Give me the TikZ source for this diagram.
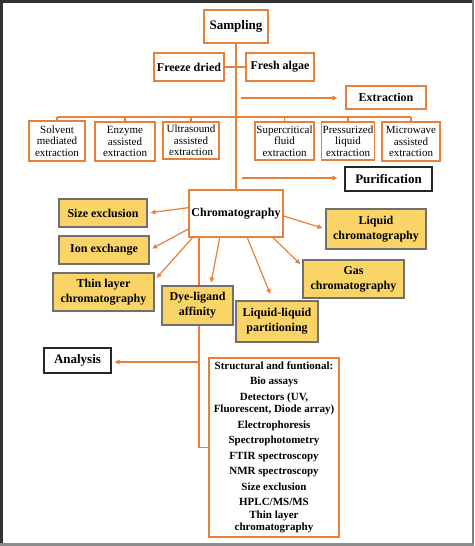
\documentclass[tikz,border=0pt]{standalone}
\usepackage{fontspec}
\setmainfont{Liberation Serif}
\usepackage{xcolor}
\usetikzlibrary{
    arrows.meta,
    positioning,
    backgrounds,
    calc
}
\definecolor{linkorange}{HTML}{E8803A}
\definecolor{boxyellow}{HTML}{FAD466}
\definecolor{boxgray}{HTML}{707070}
\tikzset{%
    >={Triangle[width=4.5pt,length=5pt]},
    % Specifications for style of nodes:
    base/.style = {
        rectangle, draw=linkorange, line width=1.1pt,
        inner sep=1pt, text centered, align=center,
        font=\fontsize{12}{15}\selectfont\bfseries,
        fill=white
    },
    bigbox/.style = {base, font=\fontsize{13}{15}\selectfont\bfseries},
    blackbox/.style = {bigbox, draw=black!85},
    subbox/.style = {base, font=\fontsize{11}{11.3}\selectfont},
    yellowbox/.style = {base, fill=boxyellow, draw=boxgray},
    link/.style = {draw=linkorange, line width=1.2pt},
    arrowlink/.style = {link, ->, shorten >=3pt}
}

\begin{document}
\begin{tikzpicture}[x=1pt, y=-1pt]
    \useasboundingbox (0,0) rectangle (474,546);
    % frame of the figure
    \fill[black!80] (0,0) rectangle (474,2.5);
    \fill[black!80] (0,0) rectangle (2.5,546);
    \fill[black!50] (471.5,0) rectangle (474,546);
    \fill[black!45] (0,543) rectangle (474,546);

    % sampling and extraction
    \node[bigbox, minimum width=64pt, minimum height=33pt] (samp) at (236,26.5) {Sampling};
    \node[base, minimum width=70pt, minimum height=28pt] (freeze) at (189,67) {Freeze dried};
    \node[base, minimum width=68pt, minimum height=28pt] (fresh) at (280,67) {Fresh algae};
    \node[bigbox, minimum width=80pt, minimum height=23pt, font=\fontsize{12}{15}\selectfont\bfseries] (extr) at (386,97.5) {Extraction};

    \node[subbox, minimum width=56pt, minimum height=40pt] (solv) at (57,141) {Solvent\\mediated\\extraction};
    \node[subbox, minimum width=60pt, minimum height=39pt] (enz) at (125,141.5) {Enzyme\\assisted\\extraction};
    \node[subbox, minimum width=56pt, minimum height=37pt] (ultra) at (191,140.5) {Ultrasound\\assisted\\extraction};
    \node[subbox, minimum width=59pt, minimum height=38pt] (super) at (284.5,141) {Supercritical\\fluid\\extraction};
    \node[subbox, minimum width=52pt, minimum height=38pt] (press) at (348,141) {Pressurized\\liquid\\extraction};
    \node[subbox, minimum width=58pt, minimum height=39pt] (micro) at (411,141.5) {Microwave\\assisted\\extraction};

    \node[blackbox, minimum width=87pt, minimum height=24pt] (purif) at (388.5,179) {Purification};

    % chromatography
    \node[base, minimum width=94pt, minimum height=47pt] (chrom) at (236,213.5) {Chromatography};
    \node[yellowbox, minimum width=88pt, minimum height=28pt] (sizeex) at (103,213) {Size exclusion};
    \node[yellowbox, minimum width=90pt, minimum height=28pt] (ionex) at (104,250) {Ion exchange};
    \node[yellowbox, minimum width=101pt, minimum height=38pt] (thin) at (103.5,292) {Thin layer\\chromatography};
    \node[yellowbox, minimum width=71pt, minimum height=39pt] (dye) at (197.5,305.5) {Dye-ligand\\affinity};
    \node[yellowbox, minimum width=82pt, minimum height=41pt] (liqliq) at (277,321.5) {Liquid-liquid\\partitioning};
    \node[yellowbox, minimum width=101pt, minimum height=38pt] (gas) at (353.5,279) {Gas\\chromatography};
    \node[yellowbox, minimum width=100pt, minimum height=40pt] (liqchr) at (376,229) {Liquid\\chromatography};

    % analysis
    \node[blackbox, minimum width=67pt, minimum height=25pt] (anal) at (77.5,360.5) {Analysis};
    \node[base, minimum width=130pt, minimum height=179pt, font=\fontsize{11}{12.5}\selectfont\bfseries] (struct) at (274,447.5) {Structural and funtional:\\[3pt]
        Bio assays\\[3pt]
        Detectors (UV,\\Fluorescent, Diode array)\\[3pt]
        Electrophoresis\\[3pt]
        Spectrophotometry\\[3pt]
        FTIR spectroscopy\\[3pt]
        NMR spectroscopy\\[3pt]
        Size exclusion\\[3pt]
        HPLC/MS/MS\\
        Thin layer\\chromatography};

    % connectors, behind the boxes
    \begin{scope}[on background layer]
    \coordinate (bar) at (0,117);
    \coordinate (ex0) at (241,98);
    \coordinate (pu0) at (242,178);
    \coordinate (an0) at (199,362);
    \draw[link] (samp.south) -- (chrom.north);
    \draw[link] (freeze.east) -- (fresh.west);
    \draw[link] (solv.north |- bar) -- (micro.north |- bar);
    \foreach \n in {solv,enz,ultra,super,press,micro}
        \draw[link] (\n.north) -- (\n.north |- bar);
    \draw[arrowlink, shorten >=8pt] (ex0) -- (ex0 -| extr.west);
    \draw[arrowlink, shorten >=7pt] (pu0) -- (pu0 -| purif.west);

    \draw[arrowlink] (chrom.173) -- (sizeex.east);
    \draw[arrowlink] (chrom.198) -- (ionex.east);
    \draw[arrowlink] (chrom.209) -- (thin.13);
    \draw[arrowlink] (chrom.236) -- (dye.57);
    \draw[arrowlink, shorten >=7pt] (chrom.295) -- (liqliq.101);
    \draw[arrowlink] (chrom.327) -- (gas.166);
    \draw[arrowlink] (chrom.357) -- (liqchr.west);

    \draw[link] ([xshift=-37pt]chrom.south) |- (struct.west);
    \draw[arrowlink] (an0) -- (an0 -| anal.east);
    \end{scope}
\end{tikzpicture}
\end{document}
